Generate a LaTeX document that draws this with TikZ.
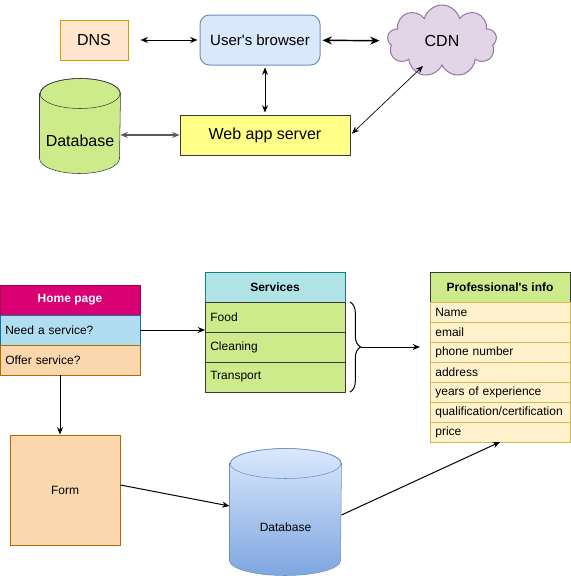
\documentclass[tikz,border=0pt]{standalone}
\usepackage{fontspec}
\setmainfont{Liberation Sans}
\usepackage{xcolor}
\usepackage{tikz}
\usetikzlibrary{positioning, shapes, arrows.meta, calc, decorations.pathreplacing, backgrounds}

\definecolor{dnsfill}{HTML}{FFE6CC}
\definecolor{dnsline}{HTML}{D79B00}
\definecolor{brwfill}{HTML}{DAE8FC}
\definecolor{brwline}{HTML}{6C8EBF}
\definecolor{cdnfill}{HTML}{E1D5E7}
\definecolor{cdnline}{HTML}{9673A6}
\definecolor{greenfill}{HTML}{CDEB8B}
\definecolor{darkline}{HTML}{36393D}
\definecolor{srvfill}{HTML}{FFFF88}
\definecolor{hpfill}{HTML}{D80073}
\definecolor{hpline}{HTML}{A50040}
\definecolor{needfill}{HTML}{B1DDF0}
\definecolor{needline}{HTML}{10739E}
\definecolor{offerfill}{HTML}{FAD7AC}
\definecolor{offerline}{HTML}{B46504}
\definecolor{svfill}{HTML}{B0E3E6}
\definecolor{svline}{HTML}{0E8088}
\definecolor{infofill}{HTML}{FFF2CC}
\definecolor{infoline}{HTML}{D6B656}
\definecolor{dbtop}{HTML}{DAE8FC}
\definecolor{dbbot}{HTML}{7EA6E0}

\tikzset{
  bigfont/.style={font=\fontsize{12}{14}\selectfont},
  smallfont/.style={font=\fontsize{9}{11}\selectfont},
  topbox/.style={draw, bigfont, minimum height=30pt},
  hdcell/.style={draw, font=\fontsize{9}{11}\selectfont\bfseries, minimum width=105pt, minimum height=22.5pt, outer sep=0pt, anchor=north west},
  rowcell/.style={draw, smallfont, text width=97pt, inner xsep=4pt, align=left, minimum height=22.5pt, outer sep=0pt, anchor=north west},
  infocell/.style={rowcell, minimum height=15pt, inner ysep=1pt, fill=infofill, draw=infoline},
  tip/.style={-{Stealth[length=5.5pt, width=4.5pt]}},
  twotip/.style={{Stealth[length=5.5pt, width=4.5pt]}-{Stealth[length=5.5pt, width=4.5pt]}},
  bigtwotip/.style={{Stealth[length=7pt, width=6pt]}-{Stealth[length=7pt, width=6pt]}}
}

\begin{document}
\begin{tikzpicture}[x=0.75pt, y=-0.75pt, line width=0.75pt]
\useasboundingbox (0,0) rectangle (571,576);

% upper diagram
\node[topbox, fill=dnsfill, draw=dnsline, minimum width=51pt] (dns) at (94,40) {DNS};
\node[topbox, rounded corners=7pt, fill=brwfill, draw=brwline, minimum width=90pt, minimum height=37.5pt, font=\fontsize{11.25}{13}\selectfont] (browser) at (260,40) {User\textquotesingle s browser};
\node[cloud, cloud puffs=9, aspect=1.7, draw=cdnline, fill=cdnfill, minimum width=82pt, minimum height=54pt, bigfont] (cdn) at (442,41) {CDN};
\node[topbox, fill=srvfill, draw=darkline, minimum width=127.5pt] (server) at (265,135) {Web app server};
\node[bigfont, minimum width=60pt, minimum height=45pt] (db) at (80,141) {Database};

\begin{scope}[on background layer]
  \draw[fill=greenfill, draw=darkline] ([yshift=12.75pt]db.north west) -- ([yshift=9.75pt]db.south west)
    arc[start angle=180, end angle=360, x radius=30pt, y radius=11.25pt]
    -- ([yshift=12.75pt]db.north east)
    arc[start angle=0, end angle=180, x radius=30pt, y radius=11.25pt] -- cycle;
  \draw[draw=darkline] ([yshift=12.75pt]db.north) ellipse[x radius=30pt, y radius=11.25pt];
\end{scope}

\draw[twotip, shorten <=9pt, shorten >=1.5pt] (dns) -- (browser);
\draw[bigtwotip, line width=1.1pt, shorten <=1.5pt, shorten >=6pt] (browser) -- (cdn);
\draw[twotip, shorten <=1.5pt, shorten >=1.5pt] (server.north |- browser.south) -- (server.north);
\draw[twotip, line width=1.1pt, draw=black!65] (db.east |- server.west) -- (server.west);
\draw[twotip, line width=0.5pt, shorten <=1.5pt] (server.east) -- ([xshift=-14.25pt]cdn.south);

% lower diagram
\node[hdcell, fill=hpfill, draw=hpline, text=white] (home) at (0,285) {Home page};
\node[rowcell, fill=needfill, draw=needline, below=0pt of home] (need) {Need a service?};
\node[rowcell, fill=offerfill, draw=offerline, below=0pt of need] (offer) {Offer service?};

\node[hdcell, fill=svfill, draw=svline] (s0) at (205,272) {Services};
\foreach \txt [count=\i, remember=\i as \j (initially 0)] in {Food, Cleaning, Transport}
  \node[rowcell, fill=greenfill, draw=darkline, below=0pt of s\j] (s\i) {\txt};

\node[hdcell, fill=greenfill, draw=darkline] (p0) at (430,272) {Professional\textquotesingle s info};
\foreach \txt [count=\i, remember=\i as \j (initially 0)] in {Name, email, phone number, address, years of experience, qualification/certification, price}
  \node[infocell, below=0pt of p\j] (p\i) {\mbox{\txt}};

\node[draw=offerline, fill=offerfill, smallfont, minimum width=82.5pt, minimum height=82.5pt] (form) at (65,490) {Form};
\node[smallfont, minimum width=83.25pt, minimum height=67.5pt] (store) at (285.5,527) {Database};

\begin{scope}[on background layer]
  \draw[top color=dbtop, bottom color=dbbot, draw=brwline] ([yshift=13.5pt]store.north west) -- ([yshift=9pt]store.south west)
    arc[start angle=180, end angle=360, x radius=41.625pt, y radius=11.25pt]
    -- ([yshift=13.5pt]store.north east)
    arc[start angle=0, end angle=180, x radius=41.625pt, y radius=11.25pt] -- cycle;
  \draw[draw=brwline] ([yshift=13.5pt]store.north) ellipse[x radius=41.625pt, y radius=11.25pt];
\end{scope}

\draw[tip] (need.east) -- (need.east -| s1.west);
\draw[decorate, decoration={brace, amplitude=8pt}] ([xshift=3.75pt]s1.north east) -- ([xshift=3.75pt]s3.south east);
\coordinate (bracetip) at ([xshift=11.75pt]s2.east);
\draw[tip, shorten >=7.5pt] (bracetip) -- (bracetip -| p2.west);
\draw[tip] ([xshift=-7.5pt]offer.south) -- ([xshift=-7.5pt]offer.south |- form.north);
\draw[tip] ([yshift=3.75pt]form.east) -- ([yshift=15.75pt]store.west);
\draw[tip] ([yshift=9pt]store.east) -- (p7.south);
\end{tikzpicture}
\end{document}
